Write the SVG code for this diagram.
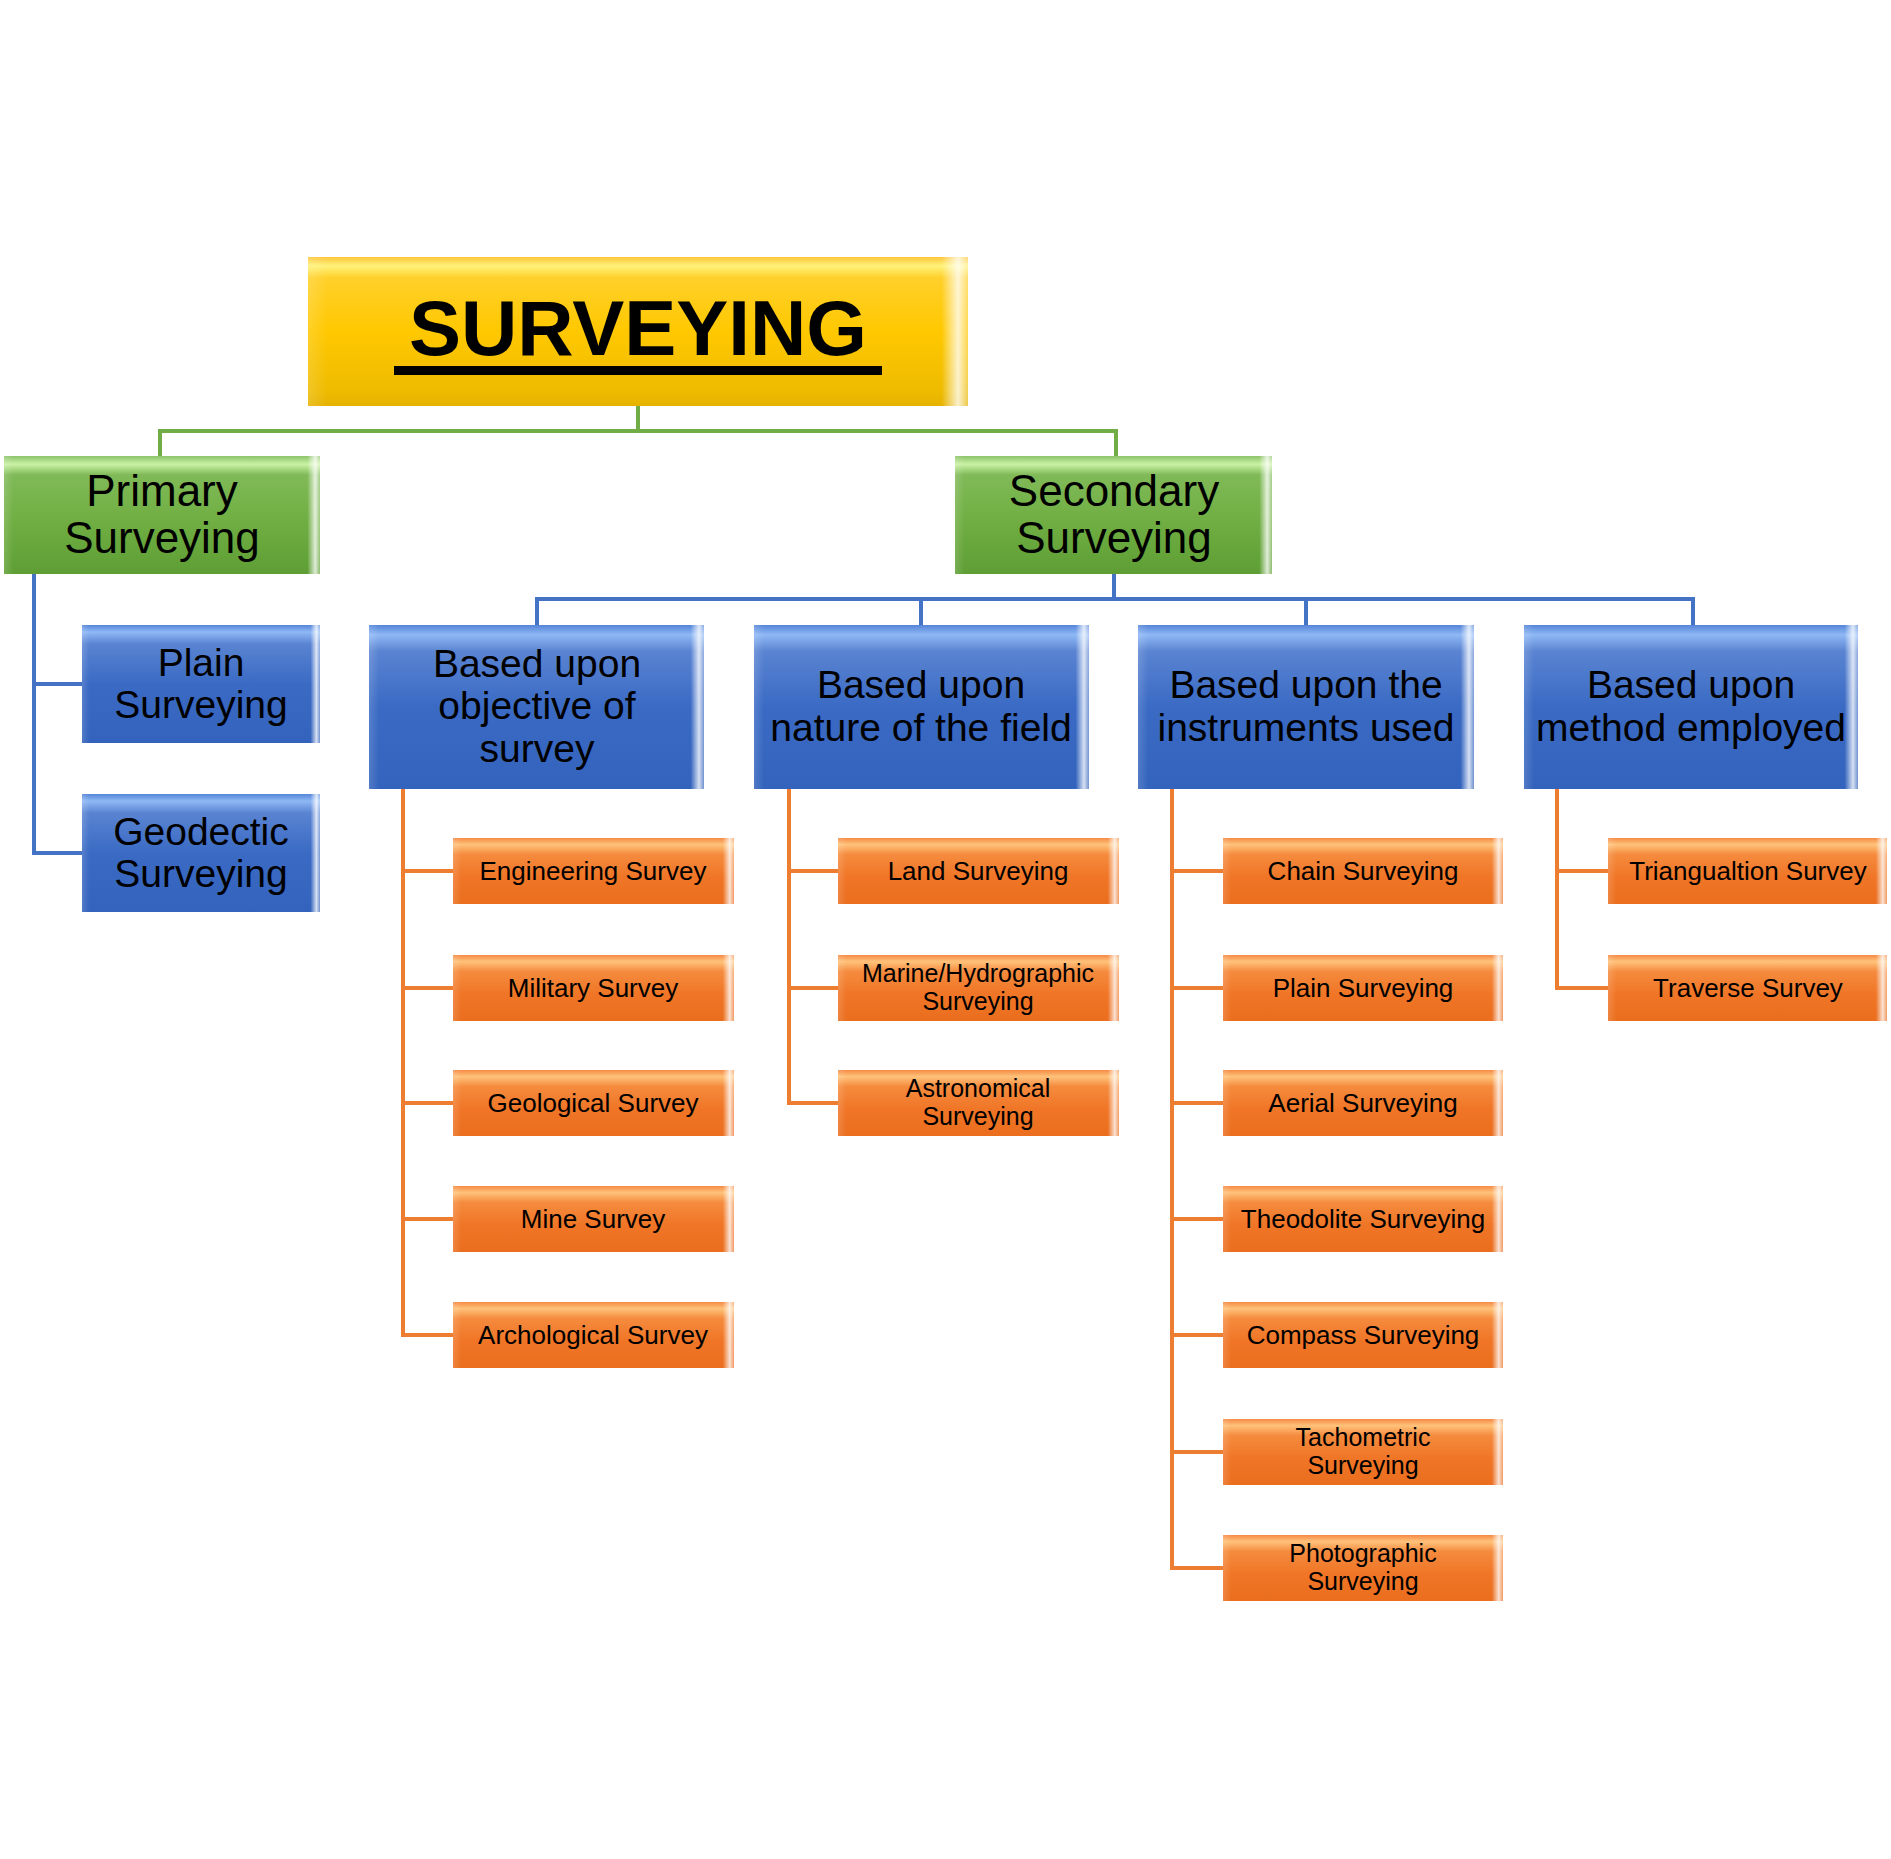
<svg xmlns="http://www.w3.org/2000/svg" width="1891" height="1859" viewBox="0 0 1891 1859">
<style>
text{font-family:"Liberation Sans",Arial,sans-serif;fill:#000;text-anchor:middle}
.t0{font-size:78px;font-weight:bold}
.t1{font-size:44px}
.t2{font-size:39px}
.t3{font-size:26px}
.t4{font-size:25px}
.g{stroke:#70AD47;stroke-width:4;fill:none}
.b{stroke:#4472C4;stroke-width:4;fill:none}
.o{stroke:#ED7D31;stroke-width:4;fill:none}
.fy{fill:url(#gy)}.fg{fill:url(#gg)}.fb{fill:url(#gb)}.fo{fill:url(#go)}
.hl{fill:url(#gh)}
</style>
<defs>
<linearGradient id="gy" x1="0" y1="0" x2="0" y2="1"><stop offset="0" stop-color="#FFC53A"/><stop offset="0.06" stop-color="#FFF27A"/><stop offset="0.14" stop-color="#FFD02A"/><stop offset="0.5" stop-color="#FFC800"/><stop offset="0.9" stop-color="#EEBB00"/><stop offset="1" stop-color="#E6B200"/></linearGradient>
<linearGradient id="gg" x1="0" y1="0" x2="0" y2="1"><stop offset="0" stop-color="#8DC26A"/><stop offset="0.07" stop-color="#C9F2A4"/><stop offset="0.16" stop-color="#80BA58"/><stop offset="0.5" stop-color="#72B045"/><stop offset="1" stop-color="#5E9E34"/></linearGradient>
<linearGradient id="gb" x1="0" y1="0" x2="0" y2="1"><stop offset="0" stop-color="#5585D8"/><stop offset="0.06" stop-color="#8FB8F5"/><stop offset="0.16" stop-color="#5A84D2"/><stop offset="0.5" stop-color="#3A6AC4"/><stop offset="1" stop-color="#3363BC"/></linearGradient>
<linearGradient id="go" x1="0" y1="0" x2="0" y2="1"><stop offset="0" stop-color="#F58A45"/><stop offset="0.1" stop-color="#FFC27A"/><stop offset="0.25" stop-color="#F58B3E"/><stop offset="0.6" stop-color="#F07526"/><stop offset="1" stop-color="#EA6E1E"/></linearGradient>
<linearGradient id="gh" x1="0" y1="0" x2="1" y2="0"><stop offset="0" stop-color="#fff" stop-opacity="0.15"/><stop offset="0.03" stop-color="#fff" stop-opacity="0"/><stop offset="0.96" stop-color="#fff" stop-opacity="0"/><stop offset="0.985" stop-color="#fff" stop-opacity="0.8"/><stop offset="1" stop-color="#fff" stop-opacity="0.3"/></linearGradient>
</defs>
<g id="connectors">
<path class="g" d="M638 406V431M160 456V431H1116V456"/>
<path class="b" d="M34 574V853H82M34 684H82"/>
<path class="b" d="M1114 574V599M537 625V599H1693V625M921 599V625M1306 599V625"/>
<path class="o" d="M403 789V1335H453M403 871H453M403 988H453M403 1103H453M403 1219H453"/>
<path class="o" d="M789 789V1103H838M789 871H838M789 988H838"/>
<path class="o" d="M1172 789V1568H1223M1172 871H1223M1172 988H1223M1172 1103H1223M1172 1219H1223M1172 1335H1223M1172 1452H1223"/>
<path class="o" d="M1557 789V988H1608M1557 871H1608"/>
</g>
<g id="surveying"><rect class="fy" x="308" y="257" width="660" height="149"/><rect class="hl" x="308" y="257" width="660" height="149"/><text class="t0" x="638" y="355">SURVEYING</text><rect x="394" y="366" width="488" height="9" fill="#000"/></g>
<g id="primary"><rect class="fg" x="4" y="456" width="316" height="118"/><rect class="hl" x="4" y="456" width="316" height="118"/><text class="t1" x="162" y="506">Primary</text><text class="t1" x="162" y="553">Surveying</text></g>
<g id="secondary"><rect class="fg" x="955" y="456" width="317" height="118"/><rect class="hl" x="955" y="456" width="317" height="118"/><text class="t1" x="1114" y="506">Secondary</text><text class="t1" x="1114" y="553">Surveying</text></g>
<g id="plain"><rect class="fb" x="82" y="625" width="238" height="118"/><rect class="hl" x="82" y="625" width="238" height="118"/><text class="t2" x="201" y="676">Plain</text><text class="t2" x="201" y="718">Surveying</text></g>
<g id="geodectic"><rect class="fb" x="82" y="794" width="238" height="118"/><rect class="hl" x="82" y="794" width="238" height="118"/><text class="t2" x="201" y="845">Geodectic</text><text class="t2" x="201" y="887">Surveying</text></g>
<g id="objective"><rect class="fb" x="369" y="625" width="335" height="164"/><rect class="hl" x="369" y="625" width="335" height="164"/><text class="t2" x="537" y="677">Based upon</text><text class="t2" x="537" y="719">objective of</text><text class="t2" x="537" y="762">survey</text></g>
<g id="nature"><rect class="fb" x="754" y="625" width="335" height="164"/><rect class="hl" x="754" y="625" width="335" height="164"/><text class="t2" x="921" y="698">Based upon</text><text class="t2" x="921" y="741">nature of the field</text></g>
<g id="instruments"><rect class="fb" x="1138" y="625" width="336" height="164"/><rect class="hl" x="1138" y="625" width="336" height="164"/><text class="t2" x="1306" y="698">Based upon the</text><text class="t2" x="1306" y="741">instruments used</text></g>
<g id="method"><rect class="fb" x="1524" y="625" width="334" height="164"/><rect class="hl" x="1524" y="625" width="334" height="164"/><text class="t2" x="1691" y="698">Based upon</text><text class="t2" x="1691" y="741">method employed</text></g>
<g id="engineering"><rect class="fo" x="453" y="838" width="281" height="66"/><rect class="hl" x="453" y="838" width="281" height="66"/><text class="t3" x="593" y="880">Engineering Survey</text></g>
<g id="military"><rect class="fo" x="453" y="955" width="281" height="66"/><rect class="hl" x="453" y="955" width="281" height="66"/><text class="t3" x="593" y="997">Military Survey</text></g>
<g id="geological"><rect class="fo" x="453" y="1070" width="281" height="66"/><rect class="hl" x="453" y="1070" width="281" height="66"/><text class="t3" x="593" y="1112">Geological Survey</text></g>
<g id="mine"><rect class="fo" x="453" y="1186" width="281" height="66"/><rect class="hl" x="453" y="1186" width="281" height="66"/><text class="t3" x="593" y="1228">Mine Survey</text></g>
<g id="archological"><rect class="fo" x="453" y="1302" width="281" height="66"/><rect class="hl" x="453" y="1302" width="281" height="66"/><text class="t3" x="593" y="1344">Archological Survey</text></g>
<g id="land"><rect class="fo" x="838" y="838" width="281" height="66"/><rect class="hl" x="838" y="838" width="281" height="66"/><text class="t3" x="978" y="880">Land Surveying</text></g>
<g id="marine"><rect class="fo" x="838" y="955" width="281" height="66"/><rect class="hl" x="838" y="955" width="281" height="66"/><text class="t4" x="978" y="982">Marine/Hydrographic</text><text class="t4" x="978" y="1010">Surveying</text></g>
<g id="astronomical"><rect class="fo" x="838" y="1070" width="281" height="66"/><rect class="hl" x="838" y="1070" width="281" height="66"/><text class="t4" x="978" y="1097">Astronomical</text><text class="t4" x="978" y="1125">Surveying</text></g>
<g id="chain"><rect class="fo" x="1223" y="838" width="280" height="66"/><rect class="hl" x="1223" y="838" width="280" height="66"/><text class="t3" x="1363" y="880">Chain Surveying</text></g>
<g id="plainsurv"><rect class="fo" x="1223" y="955" width="280" height="66"/><rect class="hl" x="1223" y="955" width="280" height="66"/><text class="t3" x="1363" y="997">Plain Surveying</text></g>
<g id="aerial"><rect class="fo" x="1223" y="1070" width="280" height="66"/><rect class="hl" x="1223" y="1070" width="280" height="66"/><text class="t3" x="1363" y="1112">Aerial Surveying</text></g>
<g id="theodolite"><rect class="fo" x="1223" y="1186" width="280" height="66"/><rect class="hl" x="1223" y="1186" width="280" height="66"/><text class="t3" x="1363" y="1228">Theodolite Surveying</text></g>
<g id="compass"><rect class="fo" x="1223" y="1302" width="280" height="66"/><rect class="hl" x="1223" y="1302" width="280" height="66"/><text class="t3" x="1363" y="1344">Compass Surveying</text></g>
<g id="tachometric"><rect class="fo" x="1223" y="1419" width="280" height="66"/><rect class="hl" x="1223" y="1419" width="280" height="66"/><text class="t4" x="1363" y="1446">Tachometric</text><text class="t4" x="1363" y="1474">Surveying</text></g>
<g id="photographic"><rect class="fo" x="1223" y="1535" width="280" height="66"/><rect class="hl" x="1223" y="1535" width="280" height="66"/><text class="t4" x="1363" y="1562">Photographic</text><text class="t4" x="1363" y="1590">Surveying</text></g>
<g id="triangulation"><rect class="fo" x="1608" y="838" width="279" height="66"/><rect class="hl" x="1608" y="838" width="279" height="66"/><text class="t3" x="1748" y="880">Triangualtion Survey</text></g>
<g id="traverse"><rect class="fo" x="1608" y="955" width="279" height="66"/><rect class="hl" x="1608" y="955" width="279" height="66"/><text class="t3" x="1748" y="997">Traverse Survey</text></g>
</svg>
